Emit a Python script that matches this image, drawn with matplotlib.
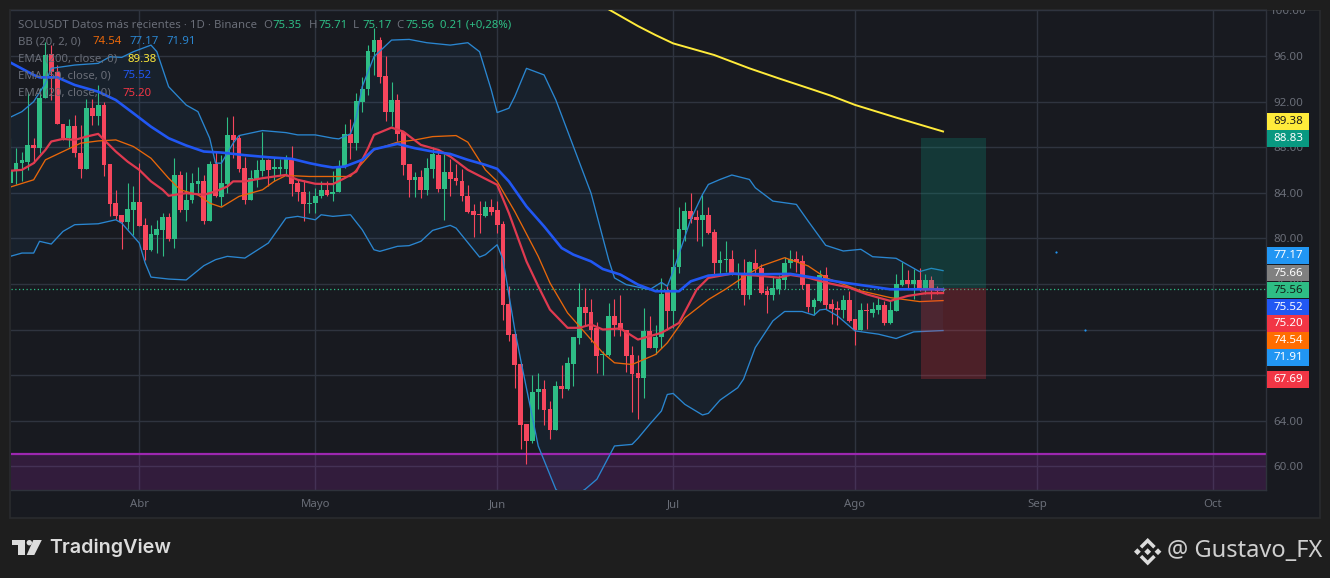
"""
SOLUSDT daily chart with Bollinger bands, three EMAs and a long position box
"""
import matplotlib
matplotlib.use("Agg")
import matplotlib.pyplot as plt
from matplotlib.patches import Rectangle, Polygon, Circle

# Candles, one per day starting 10 March
opens = [84.90,85.87,86.60,86.74,88.20,87.97,92.29,96.15,94.63,90.04,
         88.79,89.87,87.53,86.10,91.47,90.74,91.68,86.54,83.09,82.07,
         81.40,82.51,83.21,81.20,78.95,80.32,80.76,81.87,79.97,85.57,
         82.51,83.33,84.79,85.00,81.49,86.54,83.62,84.79,89.08,88.81,
         86.16,83.39,85.20,85.95,86.89,86.10,86.13,86.13,86.98,84.90,
         84.09,83.03,83.09,83.68,84.26,83.88,84.03,86.25,89.17,88.40,
         92.00,93.08,96.38,97.40,94.25,91.09,92.15,89.31,86.54,85.14,
         85.37,84.26,86.10,87.33,84.32,85.78,85.28,85.05,83.74,82.42,
         82.13,81.98,82.74,82.51,81.28,74.28,71.65,68.93,63.68,62.22,
         66.51,66.80,64.99,63.15,67.00,66.74,68.93,71.27,74.00,73.58,
         72.09,69.72,69.72,73.22,72.53,72.00,69.72,68.15,67.71,71.91,
         70.39,71.30,75.27,73.60,77.49,80.73,82.37,81.84,81.58,82.01,
         80.58,77.81,78.07,78.16,76.79,76.93,75.00,77.87,77.37,75.36,
         75.00,75.53,76.35,77.81,78.16,77.98,75.97,73.95,74.48,76.82,
         74.28,73.87,73.72,74.57,72.90,71.94,73.69,73.49,73.69,74.13,
         72.61,73.63,75.94,76.32,75.97,76.32,75.59,76.32,75.53,75.35]
closes = [85.93,86.60,86.89,88.20,87.97,92.35,96.09,94.63,90.04,88.79,
          89.87,87.53,86.10,91.47,90.74,91.68,86.45,83.03,81.98,81.40,
          82.57,83.21,81.05,78.95,80.41,80.85,81.87,79.97,85.57,82.51,
          83.39,84.84,85.00,81.49,86.54,83.68,84.84,89.08,88.64,86.10,
          83.39,85.28,86.01,86.89,86.01,86.22,86.22,86.98,84.79,84.03,
          82.98,83.09,83.74,84.26,83.82,84.06,86.25,89.17,88.40,92.06,
          93.10,96.44,97.40,94.13,91.12,92.15,89.20,86.45,85.14,85.37,
          84.26,86.16,87.41,84.32,85.78,85.22,85.00,83.68,82.33,82.07,
          82.07,82.74,82.33,81.20,74.19,71.56,68.87,63.59,62.22,66.54,
          66.80,64.90,63.15,67.00,66.74,69.02,71.30,74.00,73.49,72.00,
          69.66,69.81,73.22,72.44,71.94,69.66,68.06,67.71,71.91,70.39,
          71.36,75.15,73.60,77.52,80.79,82.37,81.72,81.61,82.01,80.50,
          77.81,78.07,78.16,76.79,76.88,75.00,77.93,77.28,75.24,75.00,
          75.62,76.41,77.87,78.16,77.93,75.88,73.95,74.57,76.82,74.13,
          73.78,73.72,74.57,72.76,71.94,73.69,73.60,73.78,74.13,72.61,
          73.69,76.03,76.32,75.97,76.32,75.59,76.32,75.44,75.35,75.56]
highs = [88.79,87.91,87.62,92.87,88.79,93.17,97.25,96.96,95.21,90.04,
         90.45,90.83,89.96,92.20,92.20,93.46,92.00,86.54,84.26,82.07,
         84.90,84.61,86.60,81.78,81.20,81.63,82.22,82.22,87.03,85.87,
         85.78,85.72,86.25,85.57,86.80,87.70,87.33,90.63,90.74,89.08,
         87.12,86.01,86.89,89.37,86.95,87.03,86.95,87.33,88.12,85.14,
         85.14,84.12,84.40,85.00,85.00,85.87,86.89,90.01,90.45,92.73,
         94.13,96.96,98.42,97.63,96.00,93.72,92.67,89.37,86.54,85.81,
         86.01,87.03,88.00,87.82,87.41,86.95,86.54,86.07,84.70,83.03,
         83.24,83.24,83.44,83.24,81.50,75.80,71.65,68.93,63.68,67.97,
         68.20,67.53,65.75,67.44,68.85,69.60,71.30,76.09,75.65,74.69,
         72.67,70.10,74.33,74.69,75.04,72.00,70.54,69.72,73.90,73.22,
         72.44,76.53,75.85,79.04,82.77,83.21,84.00,82.45,83.77,82.77,
         80.79,78.89,79.74,78.95,77.81,78.22,78.01,79.09,77.72,75.82,
         76.64,76.76,78.39,78.95,78.89,78.51,75.97,74.80,77.20,77.52,
         74.66,74.51,75.00,75.39,72.90,74.36,74.30,74.42,74.89,74.51,
         74.51,76.85,77.93,77.20,77.28,77.37,76.90,76.70,75.82,75.71]
lows = [84.55,84.76,85.00,86.01,86.60,87.47,92.29,92.15,90.04,88.64,
        88.06,87.18,85.28,86.10,89.96,89.96,85.49,81.98,81.69,79.06,
        80.81,80.32,81.05,78.13,78.86,78.71,78.42,79.74,79.15,82.30,
        81.49,83.09,83.97,81.28,81.49,83.62,82.80,83.97,87.03,85.78,
        83.03,83.39,84.55,85.43,84.61,85.00,85.57,85.43,83.68,83.24,
        81.49,82.22,82.22,83.53,83.68,83.24,84.03,86.16,86.95,87.76,
        91.12,92.58,94.34,93.60,90.34,89.90,88.58,85.57,83.62,83.62,
        83.53,83.82,85.28,84.03,81.58,83.74,84.70,83.24,82.22,80.11,
        80.47,81.87,82.07,80.47,72.82,70.98,66.83,61.49,60.17,62.00,
        65.00,63.59,62.36,63.15,65.95,66.66,67.03,70.70,72.44,70.89,
        68.20,67.97,69.66,71.42,71.42,68.26,64.76,64.12,65.95,70.39,
        69.81,70.39,72.00,72.17,76.93,79.77,81.37,79.77,79.33,80.35,
        76.79,76.76,77.08,76.79,75.68,74.13,74.66,76.85,75.09,73.43,
        74.57,75.09,75.53,77.43,77.05,75.53,73.55,73.25,74.42,73.78,
        72.47,72.38,73.05,72.67,70.66,71.94,72.03,73.14,73.40,72.41,
        72.47,73.63,75.82,75.62,74.66,75.39,75.09,74.71,75.09,75.17]

# Indicator readings, taken at the days where each line bends
ema50_days = [0,4,5,8,11,15,18,21,24,27,30,33,36,40,44,48,51,53,55,57,60,62,66,69,72,75,78,81,83,85,
              88,91,94,96,99,101,104,107,110,114,116,119,123,128,133,137,142,146,150,155,159]
ema50 = [95.44,94.34,94.13,94.13,93.46,92.87,92.14,90.98,89.80,88.79,88.15,87.62,87.53,87.30,87.12,
         86.98,86.60,86.39,86.22,86.30,86.89,87.82,88.29,87.91,87.62,87.41,86.89,86.45,86.10,85.00,
         82.80,81.05,79.15,78.57,77.98,77.31,76.82,75.94,75.36,75.36,76.23,76.73,76.90,76.85,76.88,
         76.55,76.12,75.83,75.53,75.53,75.52]

ema20_days = [0,2,4,6,7,9,11,13,15,16,18,20,22,24,26,27,30,33,35,37,38,40,43,47,49,52,55,57,59,61,62,65,
              67,70,73,75,78,83,85,88,90,92,95,97,99,101,104,107,111,114,117,119,123,128,131,133,136,
              139,143,146,150,153,156,159]
ema20 = [85.93,86.01,86.60,87.76,88.50,88.73,88.64,88.93,89.17,88.64,87.62,86.74,86.01,85.00,84.26,
         83.74,83.97,83.82,84.12,84.55,85.00,85.00,85.28,85.57,85.14,84.79,84.76,85.28,85.87,87.91,
         89.08,89.72,89.37,88.20,87.76,87.18,86.01,84.70,82.22,77.98,75.80,73.75,72.15,72.15,72.44,
         72.00,72.09,71.12,71.71,72.58,75.50,76.53,76.90,76.70,76.55,76.79,76.55,76.12,75.68,75.09,
         74.51,74.95,75.18,75.20]

basis_days = [0,4,6,9,12,15,18,21,24,27,29,32,34,36,39,43,45,47,51,53,58,62,66,69,72,76,78,81,83,86,90,
              92,95,98,101,103,106,110,112,115,119,122,124,128,132,136,139,145,150,155,159]
bb_basis = [84.50,85.14,86.89,87.62,88.35,88.55,88.64,88.06,87.03,85.28,84.26,83.82,83.09,82.74,83.68,
            84.26,85.00,85.52,85.43,85.43,85.43,87.76,88.44,88.64,88.93,89.02,88.44,86.01,85.00,82.36,
            78.42,76.09,73.46,71.71,69.96,69.08,68.93,69.81,70.83,73.02,74.63,75.56,76.26,77.57,78.30,
            77.58,76.55,75.39,74.80,74.45,74.54]

upper_days = [0,2,4,6,7,11,15,17,19,21,24,25,27,30,32,34,35,36,38,39,43,47,49,52,55,56,58,59,60,62,65,
              68,71,75,78,80,82,83,85,86,88,91,93,96,99,102,103,105,109,111,112,113,116,118,119,121,
              123,126,127,130,134,136,139,142,145,147,151,155,157,159]
bb_upper = [90.63,91.12,92.00,93.60,94.92,95.21,95.36,95.94,95.88,96.38,96.96,96.38,93.31,91.70,91.12,
            88.79,86.60,86.60,88.35,89.02,89.46,89.28,89.08,89.08,88.79,88.73,89.17,90.68,93.31,95.94,
            97.40,97.46,97.17,96.96,97.17,96.38,93.02,91.04,91.42,92.44,94.92,94.34,92.15,88.06,83.97,
            78.13,76.53,75.94,75.50,76.14,75.80,77.11,81.66,83.85,84.73,85.17,85.56,85.17,84.44,83.27,
            82.98,81.52,79.39,78.89,79.04,78.39,78.25,77.08,77.37,77.17]

lower_days = [0,2,4,5,7,9,11,15,18,19,22,23,24,27,30,33,35,37,40,44,47,49,52,53,55,58,60,62,63,66,68,70,
              72,75,76,80,81,83,84,86,87,90,93,95,98,100,103,106,107,109,111,112,113,115,118,119,121,
              124,125,127,130,132,135,137,138,139,141,144,148,151,154,159]
bb_lower = [78.42,78.71,78.71,79.74,79.50,80.61,81.20,81.28,81.63,81.34,79.59,77.84,76.60,76.43,76.35,
            77.60,78.13,78.42,78.27,79.59,81.78,81.93,81.63,82.07,81.93,82.07,80.76,79.00,78.86,79.30,
            79.36,79.74,80.70,81.14,80.90,78.36,78.57,79.44,78.13,72.00,69.37,61.78,57.98,57.00,57.98,
            58.86,61.78,61.92,62.45,63.68,64.85,66.30,66.39,65.43,64.50,64.64,65.81,66.89,67.65,70.42,
            72.76,73.58,73.58,73.25,73.72,73.78,73.20,71.88,71.59,71.21,71.79,71.91]

ema200_days = [102,107,110,113,120,126,131,137,140,144,151,159]
ema200 = [100.10,98.63,97.84,97.11,96.09,94.92,94.04,93.02,92.50,91.71,90.60,89.38]

# Stray band points out in the future
stray_days = [178.2,183.2]
stray_prices = [78.78,71.93]

month_days = [22,52,83,113,144,175,205]
month_labels = ['Abr','Mayo','Jun','Jul','Ago','Sep','Oct']
price_ticks = [60,64,68,72,76,80,84,88,92,96,100]

last_close = 75.56
zone_top = 61.08
entry_price = 75.66
target_price = 88.83
stop_price = 67.69
position_days = (155.2,166.3)

# Price tags on the right axis
tag_texts = ['89.38','88.83','77.17','75.66','75.56','75.52','75.20','74.54','71.91','67.69']
tag_colors = ['#ffeb3b','#089981','#2196f3','#808080','#2ebd85','#2157f3','#f23645','#ff6d00','#2196f3','#f23645']
tag_text_colors = ['#1a1a1a','#ffffff','#ffffff','#ffffff','#132018','#ffffff','#ffffff','#ffffff','#ffffff','#ffffff']
tag_tops = [113,130.3,247,264.7,281.7,298.7,315.3,332.3,349.3,371]

PANEL = '#181a20'
OUTER = '#1e1e1e'
GRID = '#2f343f'
MUTED = '#6a6e78'
GREEN = '#2ebd85'
RED = '#f6465d'

plt.rcParams['font.family'] = 'Noto Sans'

W, H = 1330, 578
fig = plt.figure(figsize=(W / 100, H / 100), dpi=100, facecolor=OUTER)

# Backdrop in pixel coordinates
back = fig.add_axes([0, 0, 1, 1], zorder=0)
back.set_xlim(0, W)
back.set_ylim(H, 0)
back.axis('off')
back.add_patch(Rectangle((10, 10), 1310, 507.5, facecolor=PANEL, edgecolor='#2a2b2e', linewidth=1.2))

# Main chart
ax = fig.add_axes([11 / W, 1 - 490.3 / H, 1255 / W, 480.3 / H], zorder=1)
ax.set_facecolor('none')
ax.set_xlim(0.136, 214.05)
ax.set_ylim(57.89, 100.04)
for side in ['top', 'left']:
    ax.spines[side].set_visible(False)
for side in ['right', 'bottom']:
    ax.spines[side].set_color('#2e323b')
    ax.spines[side].set_linewidth(1)

ax.set_xticks(month_days)
ax.set_xticklabels(month_labels, fontsize=8.2, color=MUTED)
ax.set_yticks(price_ticks)
ax.set_yticklabels([f'{p:.2f}' for p in price_ticks], fontsize=8.3, color=MUTED)
ax.yaxis.tick_right()
ax.tick_params(axis='both', length=0)
ax.tick_params(axis='x', pad=6)
ax.tick_params(axis='y', pad=16)
for lab in ax.get_yticklabels():
    lab.set_ha('center')
ax.grid(True, color=GRID, linewidth=1)
ax.set_axisbelow(True)

# Support zone
ax.axhspan(ax.get_ylim()[0], zone_top, facecolor='#9c27b0', alpha=0.2, linewidth=0, zorder=1)
ax.axhline(zone_top, color='#9c27b0', linewidth=1.6, zorder=2)

# Bollinger band
ax.fill(upper_days + lower_days[::-1], bb_upper + bb_lower[::-1], color='#2196f3', alpha=0.06, linewidth=0, zorder=1)

# Candles
days = list(range(len(opens)))
colors = [GREEN if c >= o else RED for o, c in zip(opens, closes)]
ax.vlines(days, lows, highs, colors=colors, linewidth=0.8, zorder=3)
ax.bar(days, [max(abs(c - o), 0.08) for o, c in zip(opens, closes)],
       bottom=[min(o, c) for o, c in zip(opens, closes)],
       width=0.82, color=colors, linewidth=0, zorder=4)

# Indicators
ax.plot(upper_days, bb_upper, color='#2a86d0', linewidth=0.95, zorder=5)
ax.plot(lower_days, bb_lower, color='#2a86d0', linewidth=0.95, zorder=5)
ax.plot(basis_days, bb_basis, color='#e8670a', linewidth=0.95, zorder=5)
ax.plot(ema20_days, ema20, color='#e03a50', linewidth=1.6, zorder=5)
ax.plot(ema50_days, ema50, color='#2157f3', linewidth=1.9, zorder=6)
ax.plot(ema200_days, ema200, color='#ffeb3b', linewidth=1.4, zorder=6)
ax.scatter(stray_days, stray_prices, s=2.5, color='#2196f3', linewidth=0, zorder=6)

# Last price line and position box
ax.axhline(last_close, color=GREEN, linewidth=0.9, linestyle=(0, (1, 2)), zorder=2)
ax.fill_between(position_days, entry_price, target_price, color='#089981', alpha=0.24, linewidth=0, zorder=7)
ax.fill_between(position_days, stop_price, entry_price, color='#f23645', alpha=0.24, linewidth=0, zorder=7)

# Everything that sits on top, again in pixel coordinates
top = fig.add_axes([0, 0, 1, 1], zorder=2)
top.set_xlim(0, W)
top.set_ylim(H, 0)
top.axis('off')
top.patch.set_alpha(0)
top.add_patch(Rectangle((1267, 0), 60, 10, facecolor=OUTER, linewidth=0))

for text, color, text_color, y in zip(tag_texts, tag_colors, tag_text_colors, tag_tops):
    top.add_patch(Rectangle((1267, y), 42, 16.6, facecolor=color, linewidth=0))
    top.text(1288, y + 8.5, text, color=text_color, fontsize=8.3, ha='center', va='center')

# Legend rows
LEG = 8.2
BLUE_TXT = '#2a86d0'
top.text(18, 25, 'SOLUSDT Datos más recientes · 1D · Binance', color=MUTED, fontsize=LEG, va='center')
for x, label, value in [(263, 'O', '75.35'), (309, 'H', '75.71'), (353, 'L', '75.17'), (396, 'C', '75.56')]:
    top.text(x, 25, label, color=MUTED, fontsize=LEG, va='center')
    top.text(x + 9, 25, value, color=GREEN, fontsize=LEG, va='center')
top.text(440, 25, '0.21 (+0,28%)', color=GREEN, fontsize=LEG, va='center')
top.text(18, 42, 'BB (20, 2, 0)', color=MUTED, fontsize=LEG, va='center')
top.text(92, 42, '74.54', color='#e8670a', fontsize=LEG, va='center')
top.text(129, 42, '77.17', color=BLUE_TXT, fontsize=LEG, va='center')
top.text(166, 42, '71.91', color=BLUE_TXT, fontsize=LEG, va='center')
top.text(18, 59, 'EMA (200, close, 0)', color=MUTED, fontsize=LEG, va='center')
top.text(128, 59, '89.38', color='#ffeb3b', fontsize=LEG, va='center')
top.text(18, 76, 'EMA (50, close, 0)', color=MUTED, fontsize=LEG, va='center')
top.text(122, 76, '75.52', color='#2157f3', fontsize=LEG, va='center')
top.text(18, 93, 'EMA (20, close, 0)', color=MUTED, fontsize=LEG, va='center')
top.text(122, 93, '75.20', color='#f23645', fontsize=LEG, va='center')

# TradingView logo
LOGO = '#dcdcdc'
top.add_patch(Polygon([(12.3, 540), (25, 540), (25, 555), (18.3, 555), (18.3, 545.3), (12.3, 545.3)],
                      facecolor=LOGO, linewidth=0))
top.add_patch(Circle((29.3, 542.7), 2.7, facecolor=LOGO, linewidth=0))
top.add_patch(Polygon([(33.3, 540), (41.8, 540), (34.3, 555), (26.7, 555)], facecolor=LOGO, linewidth=0))
top.text(49, 548, 'TradingView', color=LOGO, fontsize=14.2, fontweight='semibold', family='Inter', va='center')

# Binance mark
cx, cy = 1147.7, 551.7
for dx in (-10.3, 0, 10.3):
    r = 3.4
    top.add_patch(Polygon([(cx + dx - r, cy), (cx + dx, cy - r), (cx + dx + r, cy), (cx + dx, cy + r)],
                          facecolor=LOGO, linewidth=0))
for s in (-1, 1):
    top.add_patch(Polygon([(cx - 8, cy + s * 5.7), (cx, cy + s * 13.7), (cx + 8, cy + s * 5.7), (cx + 5.5, cy + s * 3.2),
                           (cx, cy + s * 8.7), (cx - 5.5, cy + s * 3.2)], facecolor=LOGO, linewidth=0))
top.text(1167, 551, '@ Gustavo_FX', color='#cfcfcf', fontsize=17, fontweight='light', family='Noto Sans', va='center')

fig.savefig('out.png', dpi=100, facecolor=OUTER)
plt.close(fig)
